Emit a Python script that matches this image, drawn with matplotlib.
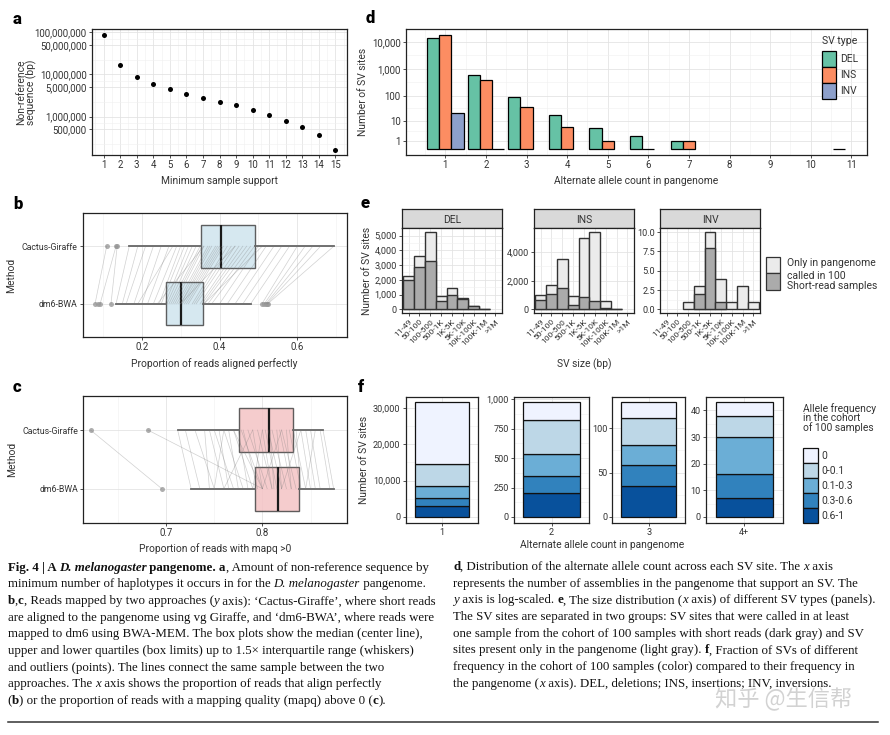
import numpy as np
import matplotlib
matplotlib.use("Agg")
import matplotlib.pyplot as plt
from matplotlib.patches import Rectangle
from matplotlib.ticker import FixedLocator, FuncFormatter, NullFormatter

# ---------------- data ----------------
# a: non-reference sequence by minimum sample support
min_support = [1, 2, 3, 4, 5, 6, 7, 8, 9, 10, 11, 12, 13, 14, 15]
nonref_bp = [8.8e7, 1.68e7, 8.5e6, 5.9e6, 4.5e6, 3.5e6, 2.8e6, 2.25e6,
             1.85e6, 1.44e6, 1.1e6, 8.0e5, 5.7e5, 3.75e5, 1.66e5]
a_yticks = [1e8, 5e7, 1e7, 5e6, 1e6, 5e5]

# b: proportion of reads aligned perfectly (box stats + per-sample pairs)
methods = ["dm6-BWA", "Cactus-Giraffe"]
b_stats = {"Cactus-Giraffe": dict(q1=0.352, med=0.404, q3=0.492, whislo=0.168, whishi=0.694,
                                  fliers=[0.110, 0.134, 0.137]),
           "dm6-BWA": dict(q1=0.2625, med=0.301, q3=0.358, whislo=0.134, whishi=0.480,
                           fliers=[0.080, 0.088, 0.093, 0.121, 0.509, 0.515, 0.519, 0.522, 0.524])}
b_cactus = [0.110, 0.134, 0.137, 0.168, 0.19, 0.21, 0.23, 0.25, 0.27, 0.29, 0.30, 0.31, 0.32,
            0.33, 0.34, 0.35, 0.355, 0.36, 0.37, 0.375, 0.38, 0.39, 0.395, 0.40, 0.405, 0.41,
            0.42, 0.43, 0.44, 0.45, 0.46, 0.47, 0.48, 0.49, 0.50, 0.52, 0.54, 0.56, 0.58,
            0.60, 0.62, 0.64, 0.66, 0.694, 0.28, 0.36, 0.44, 0.51]
b_bwa = [0.080, 0.093, 0.121, 0.134, 0.15, 0.16, 0.18, 0.20, 0.215, 0.23, 0.245, 0.25, 0.26,
         0.265, 0.27, 0.275, 0.28, 0.285, 0.29, 0.295, 0.30, 0.30, 0.305, 0.31, 0.315, 0.32,
         0.33, 0.335, 0.34, 0.35, 0.355, 0.36, 0.37, 0.38, 0.40, 0.42, 0.44, 0.46, 0.48,
         0.509, 0.515, 0.519, 0.522, 0.524, 0.19, 0.24, 0.30, 0.36]

# c: proportion of reads with mapq > 0
c_stats = {"Cactus-Giraffe": dict(q1=0.776, med=0.807, q3=0.832, whislo=0.712, whishi=0.863,
                                  fliers=[0.6215, 0.681]),
           "dm6-BWA": dict(q1=0.792, med=0.816, q3=0.838, whislo=0.726, whishi=0.874,
                           fliers=[0.6955])}
c_cactus = [0.6215, 0.681, 0.712, 0.72, 0.73, 0.74, 0.745, 0.75, 0.755, 0.76, 0.765, 0.77,
            0.775, 0.778, 0.78, 0.785, 0.79, 0.795, 0.80, 0.803, 0.806, 0.808, 0.81, 0.815,
            0.818, 0.82, 0.825, 0.828, 0.832, 0.835, 0.84, 0.845, 0.85, 0.855, 0.86, 0.863,
            0.79, 0.80, 0.82, 0.84, 0.76, 0.77]
c_bwa = [0.6955, 0.80, 0.726, 0.735, 0.75, 0.745, 0.76, 0.77, 0.765, 0.78, 0.775, 0.79,
         0.785, 0.80, 0.795, 0.805, 0.80, 0.81, 0.81, 0.815, 0.82, 0.812, 0.825, 0.82,
         0.83, 0.835, 0.83, 0.84, 0.845, 0.84, 0.85, 0.855, 0.86, 0.845, 0.87, 0.874,
         0.76, 0.79, 0.80, 0.82, 0.75, 0.80]

# d: alternate allele count per SV type (None = absent)
allele_count = [1, 2, 3, 4, 5, 6, 7, 8, 9, 10, 11]
d_del = [14500, 600, 87, 18, 5, 2, 1, None, None, None, 0]
d_ins = [18800, 376, 37, 6, 1, 0, 1, None, None, None, None]
d_inv = [21, 0, None, None, None, None, None, None, None, None, None]
d_yticks = [1, 10, 100, 1000, 10000]

# e: SV size distribution
size_bins = ["11-49", "50-100", "100-500", "500-1K", "1K-5K", "5K-10K",
             "10K-100K", "100K-1M", ">1M"]
del_total = [2290, 3630, 5230, 930, 1480, 760, 210, 50, 0]
del_short = [2010, 2870, 3260, 580, 970, 690, 200, 40, 0]
ins_total = [1000, 1690, 3520, 950, 5000, 5380, 600, 25, 0]
ins_short = [670, 1070, 1500, 310, 860, 600, 120, 10, 0]
inv_total = [0, 0, 1, 3, 10, 4, 1, 3, 1]
inv_short = [0, 0, 0, 2, 8, 1, 0, 0, 0]

# f: allele frequency in cohort vs allele count in pangenome
f_groups = ["1", "2", "3", "4+"]
af_bins = ["0", "0-0.1", "0.1-0.3", "0.3-0.6", "0.6-1"]
af_0 = [16880, 153, 18, 5]
af_0_01 = [6055, 284, 30, 8]
af_01_03 = [3210, 185, 22, 14]
af_03_06 = [2385, 145, 24, 9]
af_06_1 = [2936, 207, 35, 7]
f_yticks = [[0, 10000, 20000, 30000], [0, 250, 500, 750, 1000], [0, 50, 100], [0, 10, 20, 30, 40]]

# ---------------- figure ----------------
W, H = 890, 735
plt.rcParams["font.family"] = ["Roboto", "DejaVu Sans"]
fig = plt.figure(figsize=(W / 100, H / 100), dpi=100)
TXT = "#333333"
FS_T, FS_L = 6.9, 7.4


def ax_px(x0, y0, x1, y1):
    return fig.add_axes([x0 / W, 1 - y1 / H, (x1 - x0) / W, (y1 - y0) / H])


def style(ax, fs=FS_T):
    for s in ax.spines.values():
        s.set_color("#222222"); s.set_linewidth(0.9)
    ax.tick_params(length=2.2, width=0.6, color=TXT, labelsize=fs, labelcolor=TXT, pad=1.5)
    ax.tick_params(which="minor", length=0)
    ax.set_axisbelow(True)
    ax.grid(True, which="major", color="#E2E2E2", lw=0.55)
    ax.grid(True, which="minor", color="#F0F0F0", lw=0.4)


def letter(x, y, s):
    fig.text(x / W, 1 - y / H, s, fontsize=12, fontweight="heavy", va="center", ha="left")


def frect(x, y, w, h, fc, ec="#222222", lw=0.9):
    fig.add_artist(Rectangle((x / W, 1 - (y + h) / H), w / W, h / H, transform=fig.transFigure,
                             facecolor=fc, edgecolor=ec, lw=lw))


def ftext(x, y, s, **kw):
    kw.setdefault("fontsize", 7); kw.setdefault("color", TXT)
    fig.text(x / W, 1 - y / H, s, va=kw.pop("va", "center"), ha=kw.pop("ha", "left"), **kw)


comma = FuncFormatter(lambda v, p: f"{v:,.0f}")

# ----- a -----
ax = ax_px(92, 29, 347, 155)
style(ax)
ax.scatter(min_support, nonref_bp, s=13, c="black", zorder=3, linewidths=0)
ax.set_yscale("log")
ax.set_ylim(10 ** 5.09, 10 ** 8.078)
ax.set_xlim(0.3, 15.7)
ax.yaxis.set_major_locator(FixedLocator(a_yticks))
ax.yaxis.set_major_formatter(comma)
ax.yaxis.set_minor_locator(FixedLocator([10 ** v for v in [7.85, 7.35, 6.85, 6.35, 5.85, 5.35]]))
ax.yaxis.set_minor_formatter(NullFormatter())
ax.set_xticks(min_support)
ax.xaxis.set_minor_locator(FixedLocator(np.arange(0.5, 16, 1)))
ax.set_xlabel("Minimum sample support", fontsize=FS_L, color=TXT, labelpad=4)
ax.set_ylabel("Non-reference\nsequence (bp)", fontsize=FS_L, color=TXT, linespacing=1.0)
ax.yaxis.set_label_coords(-0.215, 0.5)
letter(13, 19, "a")

# ----- d -----
ax = ax_px(405.7, 29, 867, 155)
style(ax)
ax.set_yscale("function", functions=(lambda y: np.log10(np.maximum(y, -0.999) + 1),
                                     lambda y: 10 ** y - 1))
colors = {"DEL": "#66C2A5", "INS": "#FC8D62", "INV": "#8DA0CB"}
for name, vals, off in [("DEL", d_del, -0.3), ("INS", d_ins, 0.0), ("INV", d_inv, 0.3)]:
    xs = [c + off for c, v in zip(allele_count, vals) if v is not None]
    hs = [v for v in vals if v is not None]
    ax.bar(xs, hs, width=0.3, color=colors[name], edgecolor="black", lw=0.9, zorder=2)
ax.set_ylim(10 ** -0.214 - 1, 10 ** 4.488 - 1)
ax.set_xlim(0.024, 11.386)
ax.yaxis.set_major_locator(FixedLocator(d_yticks))
ax.yaxis.set_major_formatter(comma)
ax.yaxis.set_minor_locator(FixedLocator([10 ** v - 1 for v in [0.671, 1.523, 2.502, 3.5]]))
ax.yaxis.set_minor_formatter(NullFormatter())
ax.set_xticks(allele_count)
ax.xaxis.set_minor_locator(FixedLocator(np.arange(0.5, 11.5, 1)))
ax.set_xlabel("Alternate allele count in pangenome", fontsize=FS_L, color=TXT, labelpad=4)
ax.set_ylabel("Number of SV sites", fontsize=FS_L, color=TXT, labelpad=3)
letter(366, 18, "d")
ftext(821.7, 41.5, "SV type", fontsize=7.6)
for i, name in enumerate(["DEL", "INS", "INV"]):
    frect(821.7, 50.7 + 16 * i, 14.3, 16, colors[name], ec="black")
    ftext(840, 58.7 + 16 * i, name, fontsize=7.4)


# ----- b, c -----
def paired_box(box, stats, cact, bwa, face, xlim, xticks, xminor, xlabel, lab_y, letter_s):
    ax = ax_px(*box)
    style(ax)
    st = [dict(stats["dm6-BWA"]), dict(stats["Cactus-Giraffe"])]
    for s, lbl in zip(st, methods):
        s["label"] = lbl
    ax.bxp(st, positions=[1, 2], widths=0.75, vert=False, patch_artist=True, showcaps=False,
           boxprops=dict(facecolor=face, edgecolor="#444444", lw=1.0, alpha=0.85),
           medianprops=dict(color="#1a1a1a", lw=1.6),
           whiskerprops=dict(color="#666666", lw=1.3),
           flierprops=dict(marker="o", markerfacecolor="#9a9a9a", markeredgecolor="none",
                           markersize=3.6, alpha=0.8))
    for c, b in zip(cact, bwa):
        ax.plot([c, b], [2, 1], color="#7a7a7a", lw=0.5, alpha=0.35, zorder=4)
    ax.set_xlim(*xlim)
    ax.set_ylim(0.42, 2.58)
    ax.set_xticks(xticks)
    ax.xaxis.set_minor_locator(FixedLocator(xminor))
    ax.set_yticks([1, 2], methods)
    ax.tick_params(axis="y", labelsize=6.3)
    ax.set_xlabel(xlabel, fontsize=FS_L, color=TXT, labelpad=4)
    ax.set_ylabel("Method", fontsize=FS_L, color=TXT, labelpad=4)
    letter(13, lab_y, letter_s)
    return ax


ax_b = paired_box((82.7, 212.7, 346.7, 337.3), b_stats, b_cactus, b_bwa, "#CFE4EE", (0.0483, 0.727),
                  [0.2, 0.4, 0.6], [0.1, 0.3, 0.5, 0.7], "Proportion of reads aligned perfectly", 204, "b")
ax_b.set_xticklabels(["0.2", "0.4", "0.6"])
paired_box((83.3, 396, 346.7, 522.7), c_stats, c_cactus, c_bwa, "#F4C3C5", (0.614, 0.8876),
           [0.7, 0.8], [0.65, 0.75, 0.85], "Proportion of reads with mapq >0", 387, "c")

# ----- e -----
e_panels = [("DEL", 402, 502, del_total, del_short, [0, 1000, 2000, 3000, 4000, 5000],
             [500, 1500, 2500, 3500, 4500], 5230),
            ("INS", 534, 634, ins_total, ins_short, [0, 2000, 4000], [1000, 3000, 5000], 5380),
            ("INV", 660, 760, inv_total, inv_short, [0, 2.5, 5.0, 7.5, 10.0],
             [1.25, 3.75, 6.25, 8.75], 10)]
xpos = np.arange(1, len(size_bins) + 1)
for k, (name, x0, x1, tot, short, yt, ym, top) in enumerate(e_panels):
    sax = ax_px(x0, 209, x1, 228.3)
    sax.set_facecolor("#D9D9D9")
    sax.set_xticks([]); sax.set_yticks([])
    for s in sax.spines.values():
        s.set_color("#222222"); s.set_linewidth(0.9)
    sax.text(0.5, 0.45, name, transform=sax.transAxes, ha="center", va="center", fontsize=7.4, color=TXT)
    ax = ax_px(x0, 228.3, x1, 313.3)
    style(ax, fs=6.6)
    xs_t = [x for x, v in zip(xpos, tot) if v > 0]
    ax.bar(xs_t, [v for v in tot if v > 0], width=1.0, color="#EBEBEB", edgecolor="#333333", lw=1.0, zorder=2)
    xs_s = [x for x, v in zip(xpos, short) if v > 0]
    ax.bar(xs_s, [v for v in short if v > 0], width=1.0, color="#ABABAB", edgecolor="#333333", lw=1.0, zorder=3)
    ax.set_xlim(0.4, len(size_bins) + 0.6)
    ax.set_ylim(-0.05 * top, 1.05 * top)
    ax.set_yticks(yt)
    if name == "INV":
        ax.set_yticklabels([f"{v:.1f}" for v in yt])
    else:
        ax.yaxis.set_major_formatter(comma)
    ax.yaxis.set_minor_locator(FixedLocator(ym))
    ax.set_xticks(xpos)
    ax.set_xticklabels(size_bins, rotation=45, ha="right", rotation_mode="anchor", fontsize=6.1)
    if name == "DEL":
        ax.set_ylabel("Number of SV sites", fontsize=FS_L, color=TXT, labelpad=2)
    if name == "INS":
        ax.set_xlabel("SV size (bp)", fontsize=FS_L, color=TXT, labelpad=7)
letter(361, 203, "e")
frect(765.7, 256.7, 14.3, 16.3, "#EBEBEB", ec="#333333")
frect(765.7, 273, 14.3, 17, "#ABABAB", ec="#333333")
ftext(786.7, 263.5, "Only in pangenome", fontsize=7.5)
ftext(786.7, 281, "called in 100\nShort-read samples", fontsize=7.5, linespacing=0.95)

# ----- f -----
blues = ["#EFF3FF", "#BDD7E7", "#6BAED6", "#3182BD", "#08519C"]
layers = [af_06_1, af_03_06, af_01_03, af_0_01, af_0]
layer_cols = blues[::-1]
f_boxes = [(405.7, 478), (514, 589), (612.3, 685), (706, 782.5)]
for k, (x0, x1) in enumerate(f_boxes):
    ax = ax_px(x0, 396.7, x1, 522.7)
    style(ax, fs=6.6)
    bottom = 0
    for vals, col in zip(layers, layer_cols):
        ax.bar([1], [vals[k]], bottom=bottom, width=0.9, color=col, edgecolor="#111111", lw=0.9, zorder=2)
        bottom += vals[k]
    ax.set_xlim(0.4, 1.6)
    ax.set_ylim(-0.05 * bottom, 1.05 * bottom)
    ax.set_yticks(f_yticks[k])
    ax.yaxis.set_major_formatter(comma)
    yt = f_yticks[k]
    ax.yaxis.set_minor_locator(FixedLocator([(yt[i] + yt[i + 1]) / 2 for i in range(len(yt) - 1)]))
    ax.set_xticks([1], [f_groups[k]])
    if k == 0:
        ax.set_ylabel("Number of SV sites", fontsize=FS_L, color=TXT, labelpad=3)
fig.text(601.7 / W, 1 - 545 / H, "Alternate allele count in pangenome", fontsize=FS_L, color=TXT,
         ha="center", va="center")
letter(358, 387, "f")
ftext(803.3, 418, "Allele frequency\nin the cohort\nof 100 samples", fontsize=7.4, linespacing=0.9)
for i, (lbl, col) in enumerate(zip(af_bins, blues)):
    frect(803.3, 448.3 + 15 * i, 15, 15, col, ec="#111111")
    ftext(821.5, 456 + 15 * i, lbl, fontsize=7.4)

# ---------------- caption ----------------
SERIF = "Liberation Serif"
CAP_FS = 9.3
rend = fig.canvas.get_renderer()


def seg_kw(st):
    return dict(family=SERIF, fontsize=CAP_FS, color="#111111",
                fontweight="bold" if "b" in st else "normal",
                fontstyle="italic" if "i" in st else "normal")


def seg_width(s, kw):
    t = fig.text(0, 0, s + "|", **kw); w1 = t.get_window_extent(rend).width; t.remove()
    t = fig.text(0, 0, "|", **kw); w0 = t.get_window_extent(rend).width; t.remove()
    return w1 - w0


def rich_line(x, y, parts):
    for s, st in parts:
        kw = seg_kw(st)
        fig.text(x / W, 1 - y / H, s, va="baseline", ha="left", **kw)
        x += seg_width(s, kw)


left_lines = [
    [("Fig. 4 | A ", "b"), ("D. melanogaster", "bi"), (" pangenome. a", "b"),
     (", Amount of non-reference sequence by", "")],
    [("minimum number of haplotypes it occurs in for the ", ""), ("D. melanogaster", "i"),
     (" pangenome.", "")],
    [("b", "b"), (",", ""), ("c", "b"), (", Reads mapped by two approaches (", ""), ("y", "i"),
     (" axis): ‘Cactus-Giraffe’, where short reads", "")],
    [("are aligned to the pangenome using vg Giraffe, and ‘dm6-BWA’, where reads were", "")],
    [("mapped to dm6 using BWA-MEM. The box plots show the median (center line),", "")],
    [("upper and lower quartiles (box limits) up to 1.5× interquartile range (whiskers)", "")],
    [("and outliers (points). The lines connect the same sample between the two", "")],
    [("approaches. The ", ""), ("x", "i"), (" axis shows the proportion of reads that align perfectly", "")],
    [("(", ""), ("b", "b"), (") or the proportion of reads with a mapping quality (mapq) above 0 (", ""),
     ("c", "b"), (").", "")],
]
right_lines = [
    [("d", "b"), (", Distribution of the alternate allele count across each SV site. The ", ""),
     ("x", "i"), (" axis", "")],
    [("represents the number of assemblies in the pangenome that support an SV. The", "")],
    [("y", "i"), (" axis is log-scaled. ", ""), ("e", "b"), (", The size distribution (", ""), ("x", "i"),
     (" axis) of different SV types (panels).", "")],
    [("The SV sites are separated in two groups: SV sites that were called in at least", "")],
    [("one sample from the cohort of 100 samples with short reads (dark gray) and SV", "")],
    [("sites present only in the pangenome (light gray). ", ""), ("f", "b"),
     (", Fraction of SVs of different", "")],
    [("frequency in the cohort of 100 samples (color) compared to their frequency in", "")],
    [("the pangenome (", ""), ("x", "i"), (" axis). DEL, deletions; INS, insertions; INV, inversions.", "")],
]
for i, parts in enumerate(left_lines):
    rich_line(7.5, 570.7 + 16.65 * i, parts)
for i, parts in enumerate(right_lines):
    rich_line(453, 570.0 + 16.65 * i, parts)

fig.text(784 / W, 1 - 699 / H, "知乎 @生信帮", family=["Noto Sans CJK SC", "DejaVu Sans"],
         fontsize=16, color="#c4c4c4", alpha=0.75, ha="center", va="center")
fig.add_artist(plt.Line2D([8 / W, 878 / W], [1 - 721.7 / H] * 2, transform=fig.transFigure,
                          color="#333333", lw=1.1))

fig.savefig("out.png", dpi=100)
